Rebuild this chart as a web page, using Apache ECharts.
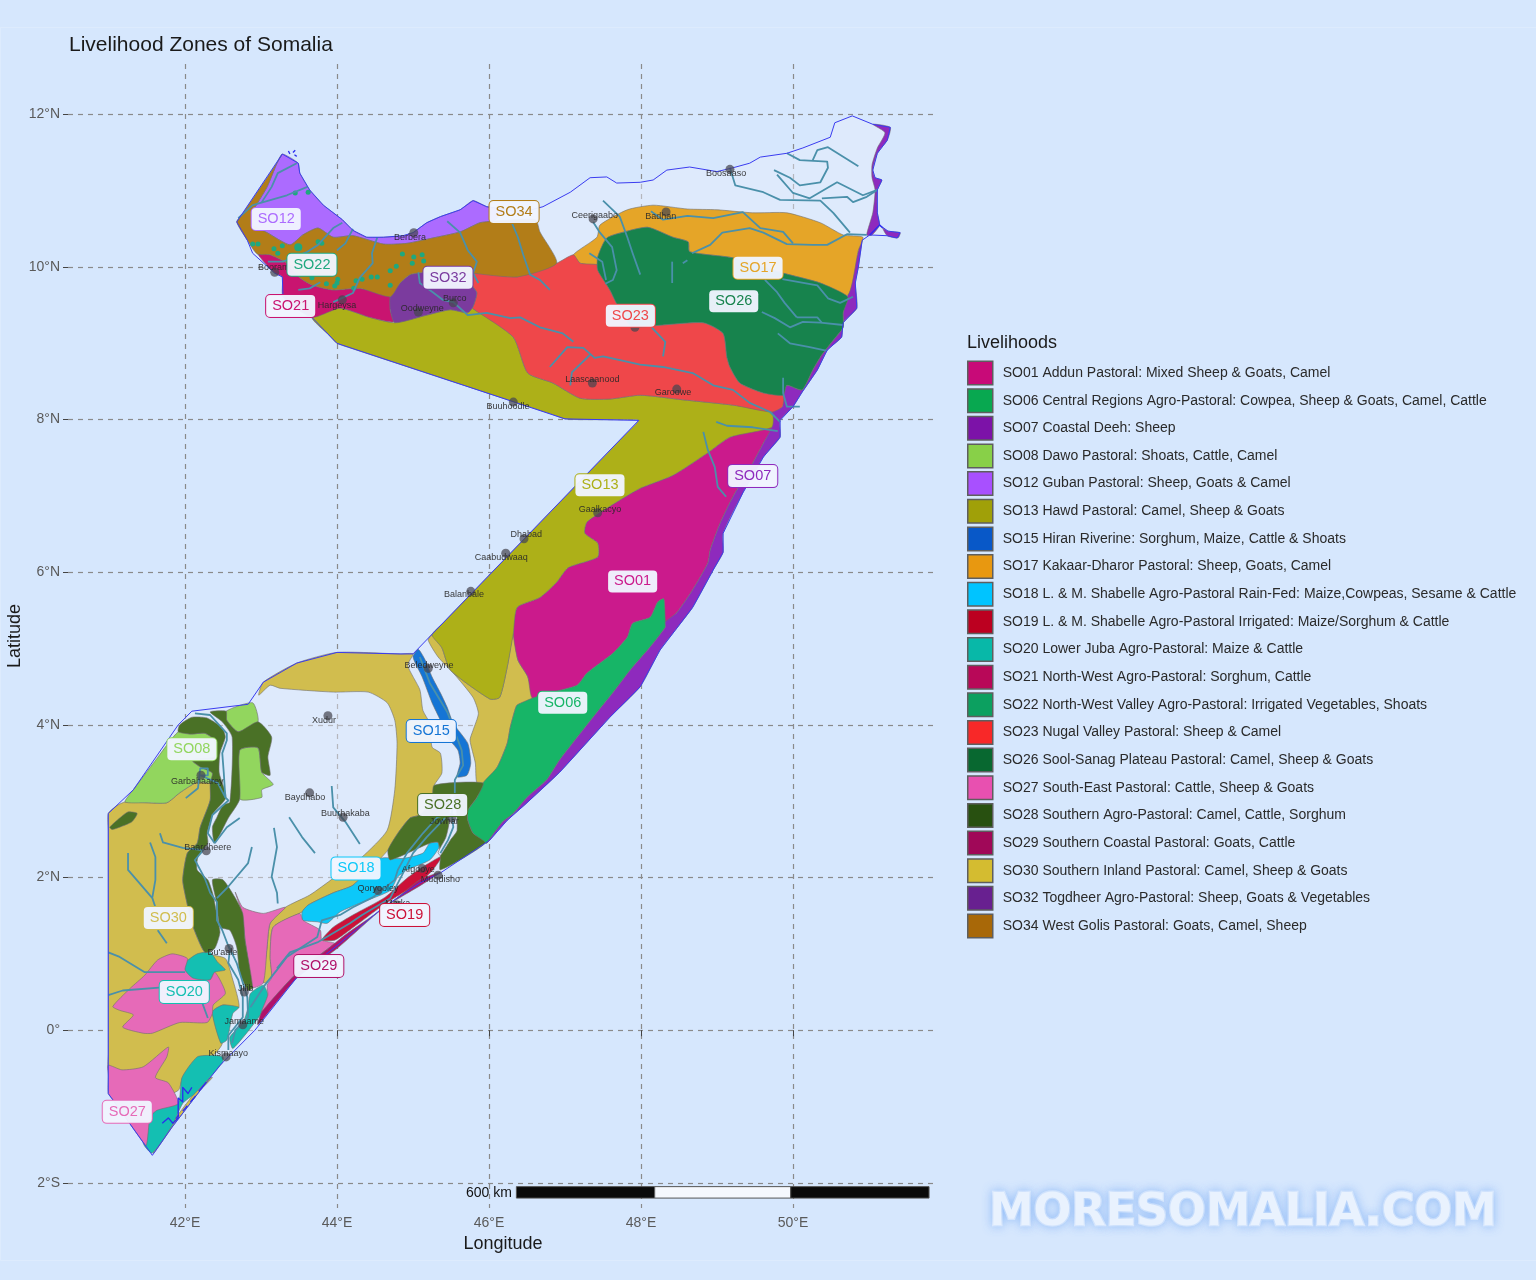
<!DOCTYPE html>
<html>
<head>
<meta charset="utf-8">
<title>Livelihood Zones of Somalia</title>
<script src="https://cdn.jsdelivr.net/npm/echarts@6/dist/echarts.min.js"></script>
<style>
html,body{margin:0;padding:0;background:#d6e7fd;}
#main{width:1536px;height:1280px;}
</style>
</head>
<body>
<div id="main"></div>
<script>
var zoneCodes=['SO01','SO06','SO07','SO08','SO12','SO13','SO15','SO17','SO18','SO19','SO20','SO21','SO22','SO23','SO26','SO27','SO28','SO29','SO30','SO32','SO34'];
var zoneNames=[
 'SO01 Addun Pastoral: Mixed Sheep & Goats, Camel',
 'SO06 Central Regions Agro-Pastoral: Cowpea, Sheep & Goats, Camel, Cattle',
 'SO07 Coastal Deeh: Sheep',
 'SO08 Dawo Pastoral: Shoats, Cattle, Camel',
 'SO12 Guban Pastoral: Sheep, Goats & Camel',
 'SO13 Hawd Pastoral: Camel, Sheep & Goats',
 'SO15 Hiran Riverine: Sorghum, Maize, Cattle & Shoats',
 'SO17 Kakaar-Dharor Pastoral: Sheep, Goats, Camel',
 'SO18 L. & M. Shabelle Agro-Pastoral Rain-Fed: Maize,Cowpeas, Sesame & Cattle',
 'SO19 L. & M. Shabelle Agro-Pastoral Irrigated: Maize/Sorghum & Cattle',
 'SO20 Lower Juba Agro-Pastoral: Maize & Cattle',
 'SO21 North-West Agro-Pastoral: Sorghum, Cattle',
 'SO22 North-West Valley Agro-Pastoral: Irrigated Vegetables, Shoats',
 'SO23 Nugal Valley Pastoral: Sheep & Camel',
 'SO26 Sool-Sanag Plateau Pastoral: Camel, Sheep & Goats',
 'SO27 South-East Pastoral: Cattle, Sheep & Goats',
 'SO28 Southern Agro-Pastoral: Camel, Cattle, Sorghum',
 'SO29 Southern Coastal Pastoral: Goats, Cattle',
 'SO30 Southern Inland Pastoral: Camel, Sheep & Goats',
 'SO32 Togdheer Agro-Pastoral: Sheep, Goats & Vegetables',
 'SO34 West Golis Pastoral: Goats, Camel, Sheep'
];
var legendColors=['#c80a78','#08a850','#7c12a8','#88d048','#a850ff','#a0a008','#0858c8','#e89810','#00c4ff','#bc0020','#08b8a8','#b80858','#0ca060','#f82828','#086830','#e850b0','#285010','#a00858','#d4bc30','#682090','#a86808'];
var mapColors=['#cb1a8c','#17b567','#8e2abd','#92d65e','#ac6bff','#adb018','#1575d5','#e5a528','#0cc8f9','#cc1138','#14bfb2','#c91470','#1fa87f','#ef474a','#17834d','#e66ab8','#4a7126','#b0126a','#d1bd4e','#7b3b9e','#b27d18'];

// country border, clockwise from the north-west tip
var border=[[43.28,11.48],[43.49,11.36],[43.51,11.23],[43.64,11.01],[43.82,10.81],[44.07,10.62],[44.21,10.48],[44.39,10.39],[44.61,10.39],[44.87,10.41],[45.00,10.45],[45.18,10.58],[45.36,10.66],[45.62,10.75],[45.79,10.87],[45.97,10.79],[46.24,10.75],[46.41,10.71],[46.71,10.79],[47.07,10.98],[47.33,11.17],[47.55,11.18],[47.68,11.10],[47.99,11.11],[48.16,11.14],[48.34,11.27],[48.64,11.31],[49.00,11.25],[49.21,11.30],[49.43,11.36],[49.57,11.44],[49.92,11.49],[50.13,11.56],[50.49,11.70],[50.55,11.89],[50.78,11.98],[51.05,11.87],[51.28,11.83],[51.24,11.66],[51.11,11.49],[51.05,11.27],[51.08,11.17],[51.17,11.14],[51.11,11.01],[51.11,10.71],[51.14,10.55],[51.25,10.47],[51.41,10.45],[51.37,10.38],[51.24,10.41],[51.01,10.42],[50.91,10.35],[50.86,10.00],[50.82,9.79],[50.84,9.46],[50.66,9.27],[50.64,9.08],[50.45,8.91],[50.32,8.65],[50.12,8.36],[50.00,8.17],[49.83,7.99],[49.83,7.77],[49.61,7.51],[49.34,7.04],[49.08,6.51],[49.08,6.26],[48.95,6.03],[48.68,5.54],[48.45,5.24],[48.25,4.98],[47.99,4.50],[47.59,4.10],[46.93,3.38],[46.50,2.98],[46.24,2.75],[46.01,2.49],[45.36,2.06],[45.09,1.93],[44.61,1.61],[44.04,1.14],[43.47,0.69],[42.92,0],[42.46,-0.46],[42.20,-0.79],[41.83,-1.27],[41.57,-1.64],[40.99,-0.83],[40.99,2.84],[41.32,3.15],[41.91,4.00],[42.09,4.18],[42.83,4.27],[43.03,4.56],[43.47,4.81],[44.00,4.95],[44.83,4.93],[45.00,4.93],[47.97,7.99],[47.00,8.01],[44.00,9.00],[43.67,9.34],[43.29,9.61],[43.28,9.87],[43.18,9.92],[42.89,10.18],[42.82,10.35],[42.68,10.59]];

var so01=[[49.72,7.90],[49.17,7.77],[48.87,7.56],[48.42,7.27],[47.99,7.10],[47.68,6.92],[47.29,6.66],[47.26,6.51],[47.43,6.38],[47.43,6.20],[47.04,6.06],[46.89,5.87],[46.67,5.67],[46.37,5.54],[46.32,5.20],[46.38,4.85],[46.51,4.63],[46.57,4.35],[46.80,4.42],[47.16,4.52],[47.29,4.68],[47.63,4.94],[47.82,5.15],[47.89,5.33],[48.12,5.41],[48.22,5.61],[48.30,5.65],[48.32,5.35],[48.47,5.47],[48.68,5.77],[48.88,6.12],[48.91,6.29],[49.04,6.64],[49.21,6.99],[49.47,7.43],[49.61,7.69]];
var so06=[[46.57,4.35],[46.37,4.26],[46.34,4.19],[46.28,3.97],[46.24,3.76],[46.11,3.45],[45.92,3.24],[45.84,3.05],[45.72,2.88],[45.72,2.75],[45.79,2.58],[45.95,2.45],[45.97,2.45],[46.18,2.73],[46.32,2.84],[46.50,3.05],[46.76,3.28],[46.93,3.54],[47.37,4.10],[47.63,4.42],[47.86,4.72],[48.12,5.02],[48.32,5.28],[48.32,5.35],[48.30,5.65],[48.22,5.61],[48.12,5.41],[47.89,5.33],[47.82,5.15],[47.63,4.94],[47.29,4.68],[47.16,4.52],[46.80,4.42]];
var so07North=[[51.05,11.87],[51.28,11.83],[51.24,11.66],[51.11,11.49],[51.05,11.27],[51.08,11.17],[51.17,11.14],[51.11,11.01],[51.11,10.71],[51.14,10.55],[51.04,10.42],[50.97,10.42],[51.05,10.71],[51.08,11.01],[51.04,11.17],[51.04,11.34],[51.11,11.56],[51.21,11.76]];
var so07Hafun=[[51.18,10.51],[51.25,10.47],[51.41,10.45],[51.38,10.38],[51.24,10.41]];
var so07Coast=[[50.91,10.38],[50.86,10.22],[50.72,9.63],[50.66,9.40],[50.66,9.21],[50.53,9.04],[50.38,8.85],[50.26,8.65],[50.12,8.39],[49.92,8.45],[49.87,8.32],[49.86,8.17],[49.72,8.10],[49.72,7.90],[49.61,7.69],[49.47,7.43],[49.21,6.99],[49.04,6.64],[48.91,6.29],[48.88,6.12],[48.68,5.77],[48.47,5.47],[48.32,5.35],[48.32,5.28],[48.12,5.02],[47.86,4.72],[47.63,4.42],[47.37,4.10],[46.93,3.54],[46.76,3.28],[46.50,3.05],[46.32,2.84],[46.18,2.73],[45.97,2.45],[46.01,2.49],[46.24,2.75],[46.50,2.98],[46.93,3.38],[47.59,4.10],[47.99,4.50],[48.25,4.98],[48.45,5.24],[48.68,5.54],[48.95,6.03],[49.08,6.26],[49.08,6.51],[49.34,7.04],[49.61,7.51],[49.83,7.77],[49.83,7.99],[50.00,8.17],[50.12,8.36],[50.32,8.65],[50.45,8.91],[50.64,9.08],[50.66,9.27],[50.84,9.46],[50.82,9.79],[50.86,10.00],[50.91,10.35]];
var so08West=[[41.91,3.91],[42.07,3.88],[42.26,3.89],[42.39,3.80],[42.39,3.58],[42.09,3.54],[42.20,3.45],[42.36,3.37],[42.33,3.24],[42.16,3.25],[41.93,3.11],[41.76,2.98],[41.50,2.98],[41.21,2.99],[41.32,3.15],[41.60,3.52]];
var so08North=[[42.54,4.18],[42.89,4.29],[42.96,4.04],[42.70,3.91],[42.55,4.06]];
var so08East=[[42.72,3.67],[42.96,3.70],[43.01,3.38],[43.16,3.22],[43.01,3.15],[43.01,3.05],[42.72,3.03]];
var so12=[[43.21,11.36],[43.08,11.05],[42.89,10.72],[42.89,10.55],[43.08,10.45],[43.38,10.29],[43.55,10.42],[43.75,10.51],[43.95,10.39],[44.21,10.41],[44.61,10.30],[44.92,10.31],[45.26,10.38],[45.62,10.46],[45.88,10.58],[46.05,10.60],[46.21,10.75],[45.97,10.79],[45.79,10.87],[45.62,10.75],[45.36,10.66],[45.18,10.58],[45.00,10.45],[44.87,10.41],[44.61,10.39],[44.39,10.39],[44.21,10.48],[44.07,10.62],[43.82,10.81],[43.64,11.01],[43.51,11.23],[43.49,11.36],[43.28,11.48]];
var so13=[[43.67,9.34],[44.04,9.46],[44.43,9.34],[44.76,9.27],[45.18,9.37],[45.49,9.44],[45.72,9.40],[45.78,9.46],[46.32,9.08],[46.51,8.61],[46.84,8.48],[47.20,8.28],[47.59,8.27],[47.99,8.32],[48.55,8.26],[49.21,8.19],[49.72,8.10],[49.72,7.90],[49.17,7.77],[48.87,7.56],[48.42,7.27],[47.99,7.10],[47.68,6.92],[47.29,6.66],[47.26,6.51],[47.43,6.38],[47.43,6.20],[47.04,6.06],[46.89,5.87],[46.67,5.67],[46.37,5.54],[46.32,5.20],[46.24,4.76],[46.14,4.36],[46.01,4.34],[45.49,4.72],[45.38,5.01],[45.25,5.18],[45.40,5.34],[47.80,7.81],[47.97,7.99],[47.80,8.00],[47.20,8.00],[47.00,8.01],[46.80,8.08],[44.20,8.93],[44.00,9.00],[43.90,9.10]];
var so15=[[45.07,4.99],[45.16,4.85],[45.25,4.63],[45.36,4.42],[45.45,4.23],[45.53,4.02],[45.72,3.76],[45.76,3.50],[45.71,3.34],[45.58,3.32],[45.62,3.50],[45.59,3.67],[45.45,3.84],[45.36,4.06],[45.25,4.29],[45.12,4.63],[45.00,4.89]];
var so17=[[47.11,10.16],[47.42,10.39],[47.46,10.55],[47.82,10.75],[48.16,10.81],[48.61,10.76],[49.00,10.75],[49.47,10.71],[49.92,10.71],[50.36,10.58],[50.66,10.42],[50.92,10.39],[50.86,10.22],[50.72,9.63],[50.36,9.79],[49.87,9.92],[49.21,10.12],[48.64,10.20],[48.62,10.33],[48.42,10.39],[48.09,10.52],[47.82,10.47],[47.55,10.38],[47.43,10.13],[47.42,10.03],[47.20,10.05]];
var so18=[[45.33,2.46],[45.34,2.39],[45.22,2.23],[44.92,2.10],[44.80,2.01],[44.70,1.83],[44.34,1.68],[44.04,1.55],[43.87,1.40],[43.74,1.42],[43.55,1.44],[43.54,1.55],[43.62,1.64],[43.95,1.80],[44.21,1.90],[44.57,2.25],[44.87,2.25],[45.13,2.32],[45.22,2.45]];
var so19=[[43.80,1.18],[43.95,1.35],[44.21,1.51],[44.63,1.74],[44.92,1.99],[45.13,2.14],[45.38,2.28],[45.26,2.10],[45.09,1.94],[44.61,1.64],[44.11,1.27],[43.97,1.18]];
var so20Coast=[[42.16,-0.35],[42.37,-0.33],[42.50,-0.35],[42.49,-0.43],[42.13,-0.83],[41.97,-0.96],[41.83,-1.25],[41.57,-1.61],[41.45,-1.48],[41.54,-1.09],[41.66,-1.02],[41.91,-0.96],[41.96,-0.62]];
var so20Jilib=[[42.86,0.48],[43.03,0.59],[43.09,0.46],[42.99,0.20],[42.63,-0.24],[42.59,-0.09],[42.76,0.09],[42.83,0.30]];
var so20Middle=[[42.36,0.24],[42.50,0.33],[42.71,0.30],[42.63,0.22],[42.59,0.04],[42.55,-0.13],[42.47,-0.17]];
var so20North=[[42.00,0.88],[42.16,1.00],[42.33,1.02],[42.43,0.89],[42.53,0.79],[42.39,0.76],[42.33,0.66],[42.11,0.63],[42.00,0.75]];
var so21=[[42.96,10.17],[43.12,10.16],[43.34,10.05],[43.51,9.86],[43.68,9.76],[43.95,9.70],[44.30,9.72],[44.70,9.61],[44.70,9.44],[44.74,9.28],[44.43,9.34],[44.04,9.46],[43.67,9.34],[43.29,9.61],[43.28,9.87],[43.18,9.92]];
var so22Lon=[42.89,42.96,43.17,43.22,43.28,43.49,43.45,43.62,43.75,43.80,43.67,43.97,43.86,44.00,44.01,44.25,44.33,44.45,44.53,44.22,44.70,44.70,44.78,44.86,44.99,45.01,45.12,45.14];
var so22Lat=[10.30,10.30,10.24,10.18,10.28,10.26,10.97,10.98,10.33,10.31,9.86,9.75,9.78,9.79,9.84,9.82,9.84,9.87,9.87,9.72,9.76,9.95,10.01,10.17,10.05,10.13,10.16,10.08];
var so23=[[45.78,9.92],[46.37,9.87],[46.41,9.90],[46.89,10.05],[47.11,10.16],[47.20,10.05],[47.42,10.03],[47.43,9.96],[47.59,9.70],[47.70,9.48],[47.88,9.21],[48.16,9.23],[48.82,9.27],[49.08,9.13],[49.13,8.82],[49.17,8.69],[49.30,8.48],[49.61,8.35],[49.87,8.32],[49.86,8.17],[49.72,8.10],[49.21,8.19],[48.55,8.26],[47.99,8.32],[47.59,8.27],[47.20,8.28],[46.84,8.48],[46.51,8.61],[46.32,9.08],[45.78,9.46],[45.79,9.48],[45.84,9.66],[45.78,9.76]];
var so26=[[47.43,10.13],[47.55,10.38],[47.82,10.47],[48.09,10.52],[48.42,10.39],[48.62,10.33],[48.64,10.20],[49.21,10.12],[49.87,9.92],[50.36,9.79],[50.72,9.61],[50.66,9.40],[50.66,9.21],[50.53,9.04],[50.38,8.85],[50.26,8.65],[50.12,8.39],[49.92,8.45],[49.87,8.32],[49.61,8.35],[49.30,8.48],[49.17,8.69],[49.13,8.82],[49.08,9.13],[48.82,9.27],[48.16,9.23],[47.88,9.21],[47.70,9.48],[47.59,9.70],[47.43,9.96]];
var so27South=[[40.99,-0.46],[41.17,-0.52],[41.45,-0.48],[41.78,-0.22],[41.76,-0.35],[41.61,-0.62],[41.78,-0.69],[41.91,-0.96],[41.63,-1.05],[41.54,-1.14],[41.49,-1.51],[41.40,-1.40],[41.06,-0.92],[40.99,-0.83],[40.99,-0.60]];
var so27Middle=[[41.05,0.31],[41.28,0.55],[41.47,0.72],[41.64,0.92],[41.83,1.00],[42.03,0.94],[42.00,0.79],[42.11,0.68],[42.33,0.66],[42.39,0.76],[42.46,0.66],[42.53,0.48],[42.37,0.33],[42.36,0.22],[42.29,0.10],[41.93,0.10],[41.57,-0.04],[41.45,-0.04],[41.18,0.04],[41.32,0.20],[41.14,0.26]];
var so27Tongue=[[42.66,1.81],[42.76,1.61],[43.03,1.53],[43.32,1.61],[43.12,1.40],[43.08,1.09],[43.03,0.62],[42.89,0.56],[42.83,0.92],[42.79,1.18],[42.75,1.53]];
var so27East=[[43.51,1.53],[43.16,1.35],[43.12,0.96],[43.14,0.69],[43.08,0.59],[43.09,0.46],[43.01,0.24],[43.47,0.75],[43.91,1.09],[43.97,1.14],[43.80,1.18],[43.78,1.31],[43.55,1.44]];
var so28Shabelle=[[45.28,3.21],[45.92,3.24],[45.84,3.05],[45.72,2.88],[45.72,2.75],[45.79,2.58],[45.95,2.45],[45.36,2.10],[45.36,2.27],[45.33,2.46],[45.22,2.45],[44.70,2.23],[44.67,2.36],[44.80,2.58],[44.96,2.78],[45.09,2.82],[45.25,3.01]];
var so28JubaWest=[[41.93,4.00],[42.09,4.10],[42.29,4.09],[42.49,3.96],[42.53,3.84],[42.46,3.63],[42.45,3.37],[42.54,3.05],[42.37,2.84],[42.29,2.58],[42.30,2.45],[42.17,2.27],[42.16,2.10],[42.30,1.97],[42.37,1.77],[42.43,1.44],[42.46,1.28],[42.39,1.07],[42.26,1.02],[42.09,1.40],[42.01,1.74],[41.97,1.97],[42.03,2.32],[42.16,2.45],[42.20,2.66],[42.33,3.01],[42.33,3.24],[42.36,3.37],[42.20,3.45],[42.09,3.54],[42.39,3.58],[42.39,3.80],[42.26,3.89],[42.07,3.88],[41.91,3.91]];
var so28JubaEast=[[42.33,4.17],[42.54,4.18],[42.55,4.06],[42.70,3.91],[42.96,4.04],[43.14,3.84],[43.09,3.58],[43.12,3.34],[43.01,3.38],[42.96,3.70],[42.72,3.67],[42.72,3.03],[42.57,2.78],[42.39,2.45],[42.36,2.66],[42.42,2.79],[42.50,2.95],[42.59,2.99],[42.62,3.84],[42.49,4.04]];
var so28Lower=[[42.36,1.97],[42.50,1.97],[42.68,1.70],[42.76,1.53],[42.79,1.18],[42.89,0.56],[42.83,0.52],[42.72,0.75],[42.68,1.09],[42.59,1.31],[42.46,1.35],[42.42,1.66]];
var so28Patch=[[41.01,2.66],[41.14,2.78],[41.25,2.86],[41.37,2.84],[41.30,2.73],[41.14,2.66],[41.04,2.63]];
var so29=[[43.01,0.24],[43.47,0.75],[43.91,1.09],[44.11,1.25],[44.70,1.66],[45.09,1.97],[45.36,2.07],[45.12,1.91],[44.61,1.60],[44.00,1.07],[43.47,0.68],[42.96,0.07]];
var so30North=[[42.97,4.39],[43.03,4.56],[43.47,4.81],[44.00,4.95],[44.83,4.93],[45.00,4.93],[44.93,4.78],[45.09,4.46],[45.13,4.19],[45.22,4.02],[45.25,3.71],[45.36,3.63],[45.38,3.37],[45.28,3.21],[45.25,3.01],[45.09,2.82],[44.96,2.78],[44.80,2.58],[44.67,2.36],[44.57,2.25],[44.21,1.90],[43.95,1.80],[43.62,1.64],[43.54,1.55],[43.16,1.35],[43.12,0.96],[43.14,0.69],[43.03,0.62],[43.08,1.09],[43.12,1.40],[43.32,1.61],[43.64,1.77],[43.95,1.99],[44.33,2.27],[44.66,2.62],[44.76,3.15],[44.79,3.76],[44.76,4.06],[44.66,4.29],[44.41,4.43],[43.95,4.43],[43.25,4.48],[43.12,4.52]];
var so30East=[[45.20,5.11],[45.33,4.89],[45.53,4.68],[45.79,4.36],[45.86,4.15],[45.79,3.93],[45.75,3.80],[45.82,3.50],[45.84,3.24],[45.95,3.24],[46.11,3.45],[46.24,3.76],[46.28,3.97],[46.34,4.19],[46.37,4.26],[46.57,4.35],[46.51,4.63],[46.38,4.85],[46.32,5.20],[46.24,4.76],[46.14,4.36],[46.01,4.34],[45.49,4.72],[45.38,5.01],[45.25,5.18]];
var so30West=[[40.99,2.84],[41.10,2.94],[41.21,2.99],[41.50,2.98],[41.76,2.98],[41.93,3.11],[42.16,3.25],[42.33,3.24],[42.33,3.01],[42.20,2.66],[42.16,2.45],[42.03,2.32],[41.97,1.97],[42.01,1.74],[42.09,1.40],[42.26,1.02],[42.53,0.94],[42.62,0.69],[42.71,0.30],[42.50,0.33],[42.36,0.24],[42.49,-0.17],[42.37,-0.33],[42.16,-0.42],[41.97,-0.62],[41.91,-0.79],[41.54,-0.92],[41.10,-0.60],[40.99,-0.52],[40.99,-0.30],[40.99,2.60]];
var so30Coast=[[42.12,-0.83],[42.26,-0.66],[42.36,-0.62],[42.20,-0.79],[42.00,-1.05],[41.83,-1.27],[41.59,-1.61],[41.58,-1.55],[41.83,-1.21]];
var so32=[[44.70,9.61],[44.83,9.79],[44.96,9.90],[45.16,9.93],[45.78,9.92],[45.78,9.76],[45.84,9.66],[45.79,9.48],[45.72,9.40],[45.49,9.44],[45.18,9.37],[44.76,9.27],[44.70,9.44]];
var so34=[[42.68,10.59],[42.82,10.35],[42.95,10.17],[43.12,10.16],[43.34,10.05],[43.51,9.86],[43.68,9.76],[43.95,9.70],[44.30,9.72],[44.70,9.61],[44.83,9.79],[44.96,9.90],[45.16,9.93],[45.75,9.92],[46.37,9.87],[46.89,10.05],[46.67,10.46],[46.61,10.62],[46.05,10.60],[45.88,10.58],[45.62,10.46],[45.26,10.38],[44.92,10.31],[44.61,10.30],[44.21,10.41],[43.95,10.39],[43.75,10.51],[43.55,10.42],[43.38,10.29],[43.08,10.45],[42.89,10.55],[42.89,10.72],[43.08,11.05],[43.21,11.36],[43.28,11.48],[43.20,11.35],[42.76,10.70]];
var unzonedSliver=[[45.55,3.08],[45.58,2.62],[45.49,2.49],[45.36,2.29],[45.33,2.33],[45.43,2.52],[45.47,2.69],[45.49,3.08]];

var zoneShapes={
 SO01:[so01],SO06:[so06],SO07:[so07North,so07Hafun,so07Coast],SO08:[so08West,so08North,so08East],SO12:[so12],SO13:[so13],SO15:[so15],SO17:[so17],SO18:[so18],SO19:[so19],
 SO20:[so20Coast,so20Jilib,so20Middle,so20North],SO21:[so21],SO23:[so23],SO26:[so26],SO27:[so27South,so27Middle,so27Tongue,so27East],
 SO28:[so28Shabelle,so28JubaWest,so28JubaEast,so28Lower,so28Patch],SO29:[so29],SO30:[so30North,so30East,so30West,so30Coast],SO32:[so32],SO34:[so34]
};

var riversNorth=[
 [[42.70,10.64],[42.89,10.81],[43.03,10.85],[43.34,10.94],[43.61,11.05]],
 [[43.01,10.85],[43.14,11.05],[43.22,11.23],[43.47,11.36]],
 [[43.09,10.07],[43.29,10.07],[43.61,10.20],[43.75,10.29],[43.95,10.51],[44.07,10.58]],
 [[44.00,10.22],[44.11,10.31],[44.21,10.50]],
 [[43.49,9.70],[43.64,9.72],[43.78,9.80]],
 [[43.95,9.54],[44.21,9.66],[44.30,9.86],[44.47,10.05],[44.46,10.18],[44.53,10.39]],
 [[45.45,10.60],[45.62,10.45],[45.72,10.22],[45.84,10.07],[45.79,9.92],[45.86,9.79]],
 [[46.30,10.58],[46.38,10.39],[46.45,10.16],[46.54,9.90],[46.67,9.83],[46.80,9.70]],
 [[45.07,9.93],[45.09,9.79],[45.26,9.67],[45.39,9.57],[45.53,9.54],[45.72,9.37],[45.97,9.40],[46.28,9.33],[46.41,9.34],[46.67,9.21],[46.97,9.13],[47.11,9.02]],
 [[46.80,8.69],[47.03,8.95],[47.24,8.94],[47.39,8.81],[47.50,8.83],[47.99,8.72],[48.29,8.69],[48.68,8.61],[48.95,8.45],[49.21,8.39],[49.43,8.22],[49.70,8.10],[49.83,7.97]],
 [[47.07,8.45],[47.09,8.62],[47.33,8.85]],
 [[48.14,9.21],[48.32,9.02],[48.29,8.83]],
 [[47.50,10.87],[47.72,10.66],[47.82,10.39],[47.89,10.18],[47.99,9.90]],
 [[47.37,10.59],[47.46,10.45],[47.62,10.26],[47.68,9.96],[47.63,9.83],[47.53,9.78]],
 [[47.32,10.18],[47.49,10.07],[47.54,9.83]],
 [[48.41,10.07],[48.41,9.79]],
 [[48.55,10.05],[48.61,10.09]],
 [[48.13,10.73],[48.29,10.62],[48.61,10.67],[48.95,10.64],[49.34,10.72],[49.57,10.51],[49.87,10.46],[50.00,10.31]],
 [[48.67,10.18],[48.91,10.29],[49.07,10.45],[49.43,10.51],[49.61,10.45],[49.92,10.30],[50.26,10.29],[50.45,10.29],[50.71,10.43],[50.97,10.42]],
 [[49.17,11.30],[49.24,11.07],[49.61,10.98],[49.83,10.88],[50.36,10.87],[50.53,10.71],[50.75,10.45]],
 [[49.92,11.49],[50.09,11.40],[50.45,11.38],[50.46,11.30],[50.36,11.11],[50.09,11.07],[49.96,11.17],[49.75,11.27]],
 [[50.26,11.40],[50.32,11.53],[50.46,11.57],[50.86,11.32]],
 [[49.79,11.21],[50.00,10.97],[50.22,10.90],[50.58,11.11],[50.92,10.94],[51.11,11.01]],
 [[50.38,10.90],[50.71,10.92],[50.79,10.85],[50.97,10.92],[51.11,11.01]],
 [[49.63,9.83],[49.79,9.67],[49.89,9.53],[50.05,9.34]],
 [[49.86,9.84],[50.32,9.76],[50.46,9.59],[50.62,9.53],[50.79,9.61]],
 [[49.59,9.41],[49.76,9.33],[49.96,9.21],[50.13,9.28],[50.36,9.27],[50.66,9.24]],
 [[50.05,9.34],[50.32,9.34],[50.38,9.27]],
 [[49.80,9.13],[49.96,9.00],[50.22,8.95],[50.45,8.90]],
 [[49.87,8.55],[49.87,8.35],[49.92,8.17],[50.09,8.17]],
 [[48.82,7.84],[48.88,7.60],[48.97,7.38],[49.01,7.12],[49.12,6.99]],
 [[48.99,7.97],[49.13,7.92],[49.47,7.90],[49.80,7.85]]
];
var riversSouth=[
 [[42.13,4.15],[42.33,4.13],[42.55,3.89],[42.55,3.80],[42.49,3.63],[42.51,3.37],[42.53,3.05],[42.57,3.01],[42.36,2.82],[42.30,2.58],[42.39,2.45]],
 [[42.39,2.45],[42.55,2.66],[42.72,2.78]],
 [[41.67,2.58],[41.71,2.46],[41.97,2.39],[42.24,2.36],[42.13,2.23],[42.26,1.99],[42.33,1.80],[42.42,1.68],[42.42,1.44],[42.49,1.31],[42.59,1.05],[42.57,0.88],[42.70,0.66],[42.76,0.43],[42.76,0.17],[42.57,-0.07],[42.57,-0.26]],
 [[42.57,1.11],[42.68,0.88],[42.82,0.43],[42.83,0.17],[42.66,0],[42.62,-0.17]],
 [[42.01,3.04],[42.17,3.17],[42.20,3.43],[42.30,3.43],[42.30,3.34],[42.20,3.34],[42.43,3.24],[42.53,3.05]],
 [[41.54,2.46],[41.61,2.27],[41.61,1.97],[41.57,1.74]],
 [[41.25,2.32],[41.25,2.10],[41.57,1.73],[41.61,1.61]],
 [[42.88,2.40],[42.83,2.19],[42.55,1.86],[42.42,1.73]],
 [[43.17,2.65],[43.21,2.40],[43.14,2.01],[43.21,1.80],[43.22,1.66]],
 [[43.37,2.79],[43.54,2.53],[43.71,2.32]],
 [[43.93,3.20],[43.95,2.92],[44.11,2.73],[44.30,2.44]],
 [[41.64,1.31],[41.76,1.14]],
 [[40.99,1.02],[41.14,0.96],[41.47,0.76],[42.00,0.76]],
 [[40.99,0.46],[41.18,0.52],[41.70,0.56],[42.20,0.43],[42.30,0.16]],
 [[45.09,4.89],[45.22,4.55],[45.45,4.17],[45.64,3.67],[45.66,3.47],[45.55,3.28],[45.55,3.08],[45.51,2.84],[45.53,2.66],[45.46,2.49],[45.36,2.32]],
 [[45.51,2.84],[45.32,2.79],[45.13,2.58],[44.92,2.32],[44.80,2.10],[44.76,1.97],[44.47,1.74],[44.21,1.61],[44.04,1.51],[43.80,1.44],[43.74,1.22],[43.34,0.96],[43.21,0.79],[43.05,0.59],[42.86,0.30]],
 [[45.42,2.78],[45.18,2.53],[45.00,2.32],[44.87,2.06],[44.70,1.73],[44.33,1.51],[44.17,1.40],[43.74,1.15],[43.38,1.02],[43.21,0.81]]
];
var coastScraps=[
 [[41.70,-1.22],[41.78,-1.15],[41.84,-1.22],[41.91,-1.15],[41.91,-0.89],[41.97,-0.94],[41.97,-0.75],[42.04,-0.83],[42.09,-0.75]],
 [[41.88,-1.16],[41.92,-1.11]],[[41.97,-1.06],[42.03,-0.99]],[[42.07,-0.94],[42.14,-0.86]],[[42.18,-0.80],[42.28,-0.68]],
 [[43.42,11.50],[43.45,11.53]],[[43.44,11.47],[43.47,11.45]],[[43.36,11.52],[43.38,11.48]],
 [[51.01,10.42],[51.14,10.55],[51.18,10.51]]
];

var cityNames=['Boosaaso','Berbera','Ceerigaabo','Badhan','Boorama','Hargeysa','Oodweyne','Burco','Laascaanood','Garoowe','Buuhoodle','Qardho','Gaalkacyo','Dhabad','Caabudwaaq','Balanbale','Beledweyne','Xudur','Baydhabo','Buurhakaba','Garbahaarey','Baardheere',"Bu'aale",'Jilib','Jamaame','Kismaayo','Jowhar','Afgooye','Muqdisho','Qoryooley','Marka'];
var cityLon=[49.17,45.01,47.37,48.33,43.18,44.07,45.07,45.53,47.36,48.47,46.32,47.92,47.43,46.46,46.22,45.76,45.20,43.88,43.64,44.08,42.21,42.28,42.58,42.78,42.76,42.54,45.51,45.12,45.33,44.54,44.79];
var cityLat=[11.28,10.45,10.63,10.72,9.93,9.57,9.41,9.53,8.48,8.40,8.23,9.21,6.78,6.44,6.25,5.75,4.74,4.12,3.11,2.79,3.34,2.35,1.07,0.50,0.07,-0.35,2.78,2.12,2.03,1.83,1.64];
var cityLabelLon=[49.12,44.96,47.39,48.26,43.20,44.00,45.12,45.55,47.36,48.42,46.25,49.12,47.46,46.49,46.16,45.67,45.21,43.83,43.58,44.11,42.16,42.30,42.49,42.80,42.78,42.57,45.41,45.07,45.36,44.54,44.80];
var cityLabelLat=[11.22,10.38,10.67,10.66,9.99,9.50,9.46,9.59,8.52,8.35,8.17,9.45,6.82,6.49,6.19,5.71,4.78,4.06,3.05,2.84,3.26,2.39,1.02,0.55,0.12,-0.31,2.73,2.10,1.98,1.85,1.66];

var tagCodes=['SO12','SO34','SO22','SO32','SO21','SO23','SO26','SO17','SO07','SO13','SO01','SO06','SO15','SO08','SO28','SO18','SO19','SO29','SO30','SO20','SO27'];
var tagLon=[43.20,46.33,43.67,45.46,43.39,47.86,49.22,49.54,49.47,47.46,47.89,46.97,45.24,42.09,45.39,44.25,44.89,43.76,41.78,41.99,41.24];
var tagLat=[10.63,10.72,10.03,9.86,9.49,9.36,9.55,9.99,7.26,7.14,5.88,4.29,3.92,3.68,2.95,2.12,1.51,0.84,1.47,0.50,-1.07];

var lonTicks=[42,44,46,48,50];
var latTicks=[-2,0,2,4,6,8,10,12];
var scaleStops=[46.36,48.18,49.97,51.79];
var scaleLat=[-2.05,-2.20];
var scaleFill=['#0a0a0a','#f5f8fd','#0a0a0a'];

var font='"Liberation Sans", Arial, sans-serif';

function polygonSeries(name,shapes,fill,legendColor,z){
  return {
    type:'custom',name:name,coordinateSystem:'cartesian2d',z:z,
    itemStyle:{color:legendColor},
    encode:{x:0,y:1},
    data:shapes.map(function(s,i){return [s[0][0],s[0][1],i];}),
    renderItem:function(params,api){
      var pts=shapes[params.dataIndex].map(function(p){return api.coord(p);});
      return {type:'polygon',shape:{points:pts,smooth:0.2},style:{fill:fill,stroke:'rgba(110,110,110,0.75)',lineWidth:0.8}};
    }
  };
}
function lineSeries(name,lines,color,width,z,closed){
  return {
    type:'custom',name:name,coordinateSystem:'cartesian2d',z:z,silent:true,
    encode:{x:0,y:1},
    data:lines.map(function(s,i){return [s[0][0],s[0][1],i];}),
    renderItem:function(params,api){
      var pts=lines[params.dataIndex].map(function(p){return api.coord(p);});
      if(closed){pts=pts.concat([pts[0]]);}
      return {type:'polyline',shape:{points:pts},style:{fill:null,stroke:color,lineWidth:width,lineJoin:'round'}};
    }
  };
}

var series=[];
series.push({
  type:'custom',name:'land',coordinateSystem:'cartesian2d',z:1,silent:true,
  encode:{x:0,y:1},
  data:[[border[0][0],border[0][1]]],
  renderItem:function(params,api){
    return {type:'polygon',shape:{points:border.map(function(p){return api.coord(p);})},style:{fill:'rgba(232,238,250,0.45)'}};
  }
});
zoneCodes.forEach(function(code,i){
  if(code==='SO22'){
    series.push({
      type:'scatter',name:zoneNames[i],z:5,
      itemStyle:{color:legendColors[i],opacity:1},
      data:so22Lon.map(function(lon,k){
        return {value:[lon,so22Lat[k]],symbolSize:k===5?8:5,itemStyle:{color:mapColors[i],opacity:1}};
      })
    });
  }else{
    series.push(polygonSeries(zoneNames[i],zoneShapes[code],mapColors[i],legendColors[i],code==='SO30'?2:3));
  }
});
series.push(polygonSeries('sliver',[unzonedSliver],'#dde8fa','#dde8fa',4));
series.push(lineSeries('rivers',riversNorth.concat(riversSouth),'#4a90aa',1.8,6,false));
series.push(lineSeries('border',[border],'#3a3cf0',1,7,true));
series.push(lineSeries('scraps',coastScraps,'#2a2cf0',1.3,7,false));
series.push({
  type:'custom',name:'scale',coordinateSystem:'cartesian2d',z:7,silent:true,
  encode:{x:0,y:1},
  data:scaleFill.map(function(c,i){return [scaleStops[i],scaleLat[0],i];}),
  renderItem:function(params,api){
    var i=params.dataIndex;
    var a=api.coord([scaleStops[i],scaleLat[0]]),b=api.coord([scaleStops[i+1],scaleLat[1]]);
    return {type:'rect',shape:{x:a[0],y:a[1],width:b[0]-a[0],height:b[1]-a[1]},style:{fill:scaleFill[i],stroke:'#555',lineWidth:1}};
  }
});
series.push({
  type:'scatter',name:'cities',z:8,silent:true,symbolSize:9,
  itemStyle:{color:'rgba(70,70,80,0.72)',opacity:1},
  data:cityLon.map(function(lon,i){return [lon,cityLat[i]];})
});
series.push({
  type:'scatter',name:'cityNames',z:8,silent:true,symbolSize:0,
  itemStyle:{opacity:1},
  label:{show:true,position:'inside',fontFamily:font,fontSize:9,color:'rgba(40,40,40,0.9)',
    formatter:function(p){return cityNames[p.dataIndex];}},
  data:cityLabelLon.map(function(lon,i){return [lon,cityLabelLat[i]];})
});
series.push({
  type:'scatter',name:'tags',z:9,silent:true,symbolSize:0,
  itemStyle:{opacity:1},
  data:tagCodes.map(function(code,i){
    var c=mapColors[zoneCodes.indexOf(code)];
    return {value:[tagLon[i],tagLat[i]],label:{show:true,position:'inside',formatter:code,fontFamily:font,fontSize:14.5,color:c,
      backgroundColor:'rgba(240,245,255,0.96)',borderColor:c,borderWidth:1,borderRadius:4,padding:[4,6,3,6]}};
  })
});

var myChart=echarts.init(document.getElementById('main'),null,{renderer:'canvas'});
var option={
  backgroundColor:'#d6e7fd',
  animation:false,
  title:{text:'Livelihood Zones of Somalia',left:64,top:30,textStyle:{fontFamily:font,fontSize:21,fontWeight:'normal',color:'#1a1a1a'}},
  grid:{left:68,right:598,top:64,bottom:72,outerBoundsMode:'none'},
  xAxis:{
    type:'value',min:40.46,max:51.908,
    name:'Longitude',nameLocation:'middle',nameGap:26,
    nameTextStyle:{fontFamily:font,fontSize:18,color:'#1a1a1a'},
    axisLine:{show:false},
    axisTick:{show:true,length:6,customValues:lonTicks,lineStyle:{color:'#444'}},
    axisLabel:{customValues:lonTicks,fontFamily:font,fontSize:14,color:'#5a5a5a',margin:8,formatter:function(v){return v+'°E';}},
    splitLine:{show:true,lineStyle:{color:'#8a8a8a',type:[5,5],width:1.2}}
  },
  yAxis:{
    type:'value',min:-2.33,max:12.66,
    name:'Latitude',nameLocation:'middle',nameGap:44,nameMoveOverlap:false,
    nameTextStyle:{fontFamily:font,fontSize:18,color:'#1a1a1a'},
    axisLine:{show:false},
    axisTick:{show:true,length:5,customValues:latTicks,lineStyle:{color:'#444'}},
    axisLabel:{customValues:latTicks,fontFamily:font,fontSize:14,color:'#5a5a5a',margin:8,formatter:function(v){return v===0?'0°':(v<0?-v+'°S':v+'°N');}},
    splitLine:{show:true,lineStyle:{color:'#8a8a8a',type:[5,5],width:1.2}}
  },
  legend:{
    orient:'vertical',left:967,top:360.5,padding:0,selectedMode:false,
    data:zoneNames,icon:'rect',itemWidth:25,itemHeight:23.5,itemGap:2.65,
    itemStyle:{borderColor:'#5e5e5e',borderWidth:1.5},
    textStyle:{fontFamily:font,fontSize:14,color:'#2a2a2a',padding:[0,0,0,5]}
  },
  graphic:[
    {type:'rect',left:0,top:27,z:0,shape:{width:1536,height:1233},style:{fill:'rgba(255,255,255,0.02)',stroke:'rgba(255,255,255,0.18)',lineWidth:1}},
    {type:'text',left:967,top:334,style:{text:'Livelihoods',font:'18px '+font,fill:'#1a1a1a'}},
    {type:'text',left:466,top:1186,z:10,style:{text:'600 km',font:'14px '+font,fill:'#111'}},
    {type:'text',left:988,top:1190,z:10,style:{text:'MORESOMALIA.COM',font:'bold 44.5px "DejaVu Sans"',fill:'#e9f2fe',stroke:'#e9f2fe',lineWidth:2.5,lineJoin:'round',textShadowBlur:10,textShadowColor:'rgba(110,165,245,0.55)'},shadowBlur:10,shadowColor:'rgba(110,165,245,0.55)'}
  ],
  series:series
};
myChart.setOption(option);
</script>
</body>
</html>
